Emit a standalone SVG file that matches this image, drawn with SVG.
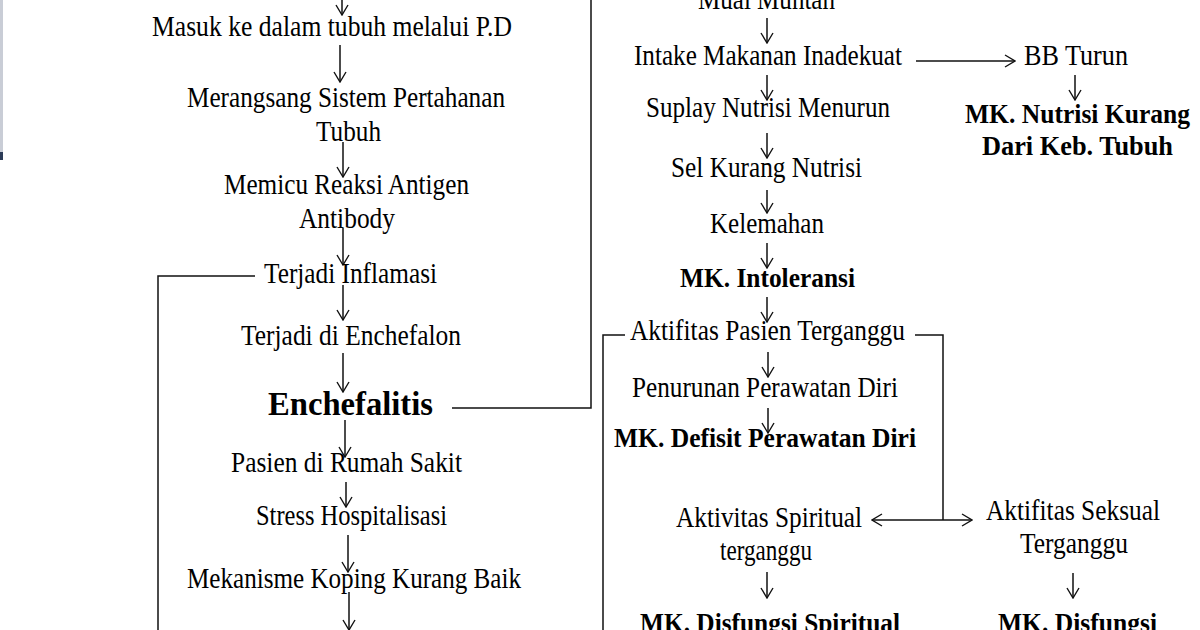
<svg xmlns="http://www.w3.org/2000/svg" width="1200" height="630" viewBox="0 0 1200 630">
<defs>
<style>
.t{font-family:"Liberation Serif","Times New Roman",serif;font-size:29px;fill:#000}
.b{font-family:"Liberation Serif","Times New Roman",serif;font-size:28px;font-weight:bold;fill:#000}
.big{font-family:"Liberation Serif","Times New Roman",serif;font-size:33px;font-weight:bold;fill:#000}
.c{fill:none;stroke:#111;stroke-width:1.5}
.a{fill:none;stroke:#111;stroke-width:1.5;marker-end:url(#ah)}
</style>
<marker id="ah" viewBox="0 0 12 14" refX="11" refY="7" markerWidth="12" markerHeight="14" markerUnits="userSpaceOnUse" orient="auto-start-reverse">
<path d="M1,1 L11,7 L1,13" fill="none" stroke="#111" stroke-width="1.4"/>
</marker>
</defs>
<rect width="1200" height="630" fill="#fff"/>
<rect x="0" y="0" width="3" height="152" fill="#c9cdd6"/>
<rect x="0" y="152" width="3" height="8" fill="#2b3b57"/>

<g id="connectors">
<line class="a" x1="342" y1="0" x2="342" y2="15"/>
<line class="a" x1="340" y1="45" x2="340" y2="82"/>
<line class="a" x1="343" y1="142" x2="343" y2="177"/>
<line class="a" x1="343" y1="228" x2="343" y2="265"/>
<line class="a" x1="343" y1="285" x2="343" y2="320"/>
<line class="a" x1="343" y1="353" x2="343" y2="392"/>
<line class="a" x1="345" y1="420" x2="345" y2="457"/>
<line class="a" x1="346" y1="482" x2="346" y2="507"/>
<line class="a" x1="348" y1="535" x2="348" y2="572"/>
<line class="a" x1="349" y1="592" x2="349" y2="630"/>
<polyline class="c" points="255,276 158,276 158,630"/>
<polyline class="c" points="452,408 591,408 591,0"/>
<line class="a" x1="767" y1="18" x2="767" y2="43"/>
<line class="a" x1="916" y1="61" x2="1015" y2="61"/>
<line class="a" x1="1075" y1="75" x2="1075" y2="100"/>
<line class="a" x1="767" y1="75" x2="767" y2="100"/>
<line class="a" x1="767" y1="133" x2="767" y2="158"/>
<line class="a" x1="767" y1="190" x2="767" y2="213"/>
<line class="a" x1="767" y1="243" x2="767" y2="268"/>
<line class="a" x1="767" y1="297" x2="767" y2="322"/>
<line class="a" x1="768" y1="352" x2="768" y2="377"/>
<line class="a" x1="768" y1="408" x2="768" y2="433"/>
<polyline class="c" points="625,335 603,335 603,630"/>
<polyline class="c" points="915,335 943,335 943,520"/>
<line class="a" x1="872" y1="520" x2="972" y2="520" style="marker-start:url(#ah)"/>
<line class="a" x1="767" y1="572" x2="767" y2="598"/>
<line class="a" x1="1073" y1="573" x2="1073" y2="598"/>
</g>

<g id="n-masuk"><text class="t" x="152" y="36" textLength="360" lengthAdjust="spacingAndGlyphs">Masuk ke dalam tubuh melalui P.D</text></g>
<g id="n-merangsang"><text class="t" x="187" y="107" textLength="318" lengthAdjust="spacingAndGlyphs">Merangsang Sistem Pertahanan</text><text class="t" x="316" y="141" textLength="65" lengthAdjust="spacingAndGlyphs">Tubuh</text></g>
<g id="n-memicu"><text class="t" x="224" y="194" textLength="245" lengthAdjust="spacingAndGlyphs">Memicu Reaksi Antigen</text><text class="t" x="299" y="228" textLength="96" lengthAdjust="spacingAndGlyphs">Antibody</text></g>
<g id="n-inflamasi"><text class="t" x="264" y="283" textLength="173" lengthAdjust="spacingAndGlyphs">Terjadi Inflamasi</text></g>
<g id="n-enchefalon"><text class="t" x="241" y="345" textLength="220" lengthAdjust="spacingAndGlyphs">Terjadi di Enchefalon</text></g>
<g id="n-enchefalitis"><text class="big" x="268" y="415" textLength="165" lengthAdjust="spacingAndGlyphs">Enchefalitis</text></g>
<g id="n-pasien"><text class="t" x="231" y="472" textLength="231" lengthAdjust="spacingAndGlyphs">Pasien di Rumah Sakit</text></g>
<g id="n-stress"><text class="t" x="256" y="525" textLength="191" lengthAdjust="spacingAndGlyphs">Stress Hospitalisasi</text></g>
<g id="n-koping"><text class="t" x="187" y="588" textLength="334" lengthAdjust="spacingAndGlyphs">Mekanisme Koping Kurang Baik</text></g>

<g id="n-mual"><text class="t" x="698" y="9" textLength="137" lengthAdjust="spacingAndGlyphs">Mual Muntah</text></g>
<g id="n-intake"><text class="t" x="634" y="65" textLength="268" lengthAdjust="spacingAndGlyphs">Intake Makanan Inadekuat</text></g>
<g id="n-bb"><text class="t" x="1024" y="65" textLength="104" lengthAdjust="spacingAndGlyphs">BB Turun</text></g>
<g id="n-mk-nutrisi"><text class="b" x="965" y="123" textLength="225" lengthAdjust="spacingAndGlyphs">MK. Nutrisi Kurang</text><text class="b" x="982" y="155" textLength="191" lengthAdjust="spacingAndGlyphs">Dari Keb. Tubuh</text></g>
<g id="n-suplay"><text class="t" x="646" y="117" textLength="244" lengthAdjust="spacingAndGlyphs">Suplay Nutrisi Menurun</text></g>
<g id="n-sel"><text class="t" x="671" y="177" textLength="191" lengthAdjust="spacingAndGlyphs">Sel Kurang Nutrisi</text></g>
<g id="n-kelemahan"><text class="t" x="710" y="233" textLength="114" lengthAdjust="spacingAndGlyphs">Kelemahan</text></g>
<g id="n-intoleransi"><text class="b" x="680" y="287" textLength="175" lengthAdjust="spacingAndGlyphs">MK. Intoleransi</text></g>
<g id="n-aktifitas"><text class="t" x="630" y="340" textLength="275" lengthAdjust="spacingAndGlyphs">Aktifitas Pasien Terganggu</text></g>
<g id="n-penurunan"><text class="t" x="632" y="397" textLength="266" lengthAdjust="spacingAndGlyphs">Penurunan Perawatan Diri</text></g>
<g id="n-defisit"><text class="b" x="614" y="447" textLength="302" lengthAdjust="spacingAndGlyphs">MK. Defisit Perawatan Diri</text></g>
<g id="n-spiritual"><text class="t" x="676" y="527" textLength="186" lengthAdjust="spacingAndGlyphs">Aktivitas Spiritual</text><text class="t" x="720" y="560" textLength="92" lengthAdjust="spacingAndGlyphs">terganggu</text></g>
<g id="n-mk-spiritual"><text class="b" x="640" y="632" textLength="260" lengthAdjust="spacingAndGlyphs">MK. Disfungsi Spiritual</text></g>
<g id="n-seksual"><text class="t" x="986" y="520" textLength="174" lengthAdjust="spacingAndGlyphs">Aktifitas Seksual</text><text class="t" x="1020" y="553" textLength="108" lengthAdjust="spacingAndGlyphs">Terganggu</text></g>
<g id="n-mk-seksual"><text class="b" x="998" y="632" textLength="159" lengthAdjust="spacingAndGlyphs">MK. Disfungsi</text></g>
</svg>
